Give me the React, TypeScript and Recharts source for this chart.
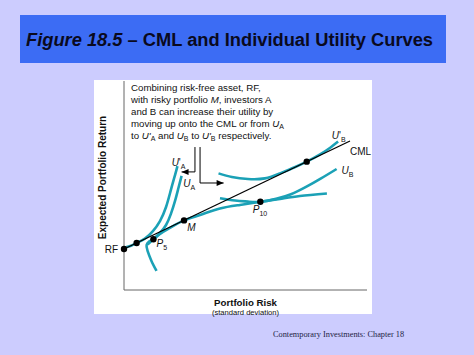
import { ComposedChart, Line, Scatter, XAxis, YAxis, Label } from "recharts";

// risk (x) / return (y) in arbitrary 0-100 units
const cml = [
  { x: 0, y: 19.6 },
  { x: 93, y: 71.3 },
];

const frontier = [
  { x: 13.4, y: 9.1 }, { x: 11.3, y: 13.9 }, { x: 9.7, y: 18.7 }, { x: 9.3, y: 21.5 },
  { x: 10.3, y: 23.2 }, { x: 12.1, y: 24.3 }, { x: 14.8, y: 26.8 }, { x: 18.9, y: 29.7 },
  { x: 24.7, y: 33.3 }, { x: 31.3, y: 35.9 }, { x: 39.5, y: 39.0 }, { x: 47.7, y: 40.7 },
  { x: 56.1, y: 42.2 }, { x: 64.2, y: 43.6 }, { x: 72.4, y: 45.0 }, { x: 83.5, y: 46.2 },
];

const uPrimeA = [
  { x: 0.4, y: 20.3 }, { x: 2.9, y: 21.2 }, { x: 5.2, y: 22.5 }, { x: 8.6, y: 24.6 },
  { x: 11.9, y: 28.2 }, { x: 14.8, y: 33.0 }, { x: 17.3, y: 39.7 }, { x: 19.3, y: 47.9 },
  { x: 21.0, y: 55.0 }, { x: 22.0, y: 59.3 },
];

const uA = [
  { x: 9.7, y: 21.8 }, { x: 12.1, y: 24.3 }, { x: 14.8, y: 27.3 }, { x: 17.3, y: 31.1 },
  { x: 19.3, y: 36.4 }, { x: 21.0, y: 42.6 }, { x: 22.4, y: 48.8 }, { x: 23.7, y: 54.6 },
];

const uB = [
  { x: 39.5, y: 43.9 }, { x: 45.7, y: 42.8 }, { x: 51.0, y: 42.3 }, { x: 56.1, y: 42.2 },
  { x: 62.6, y: 43.6 }, { x: 68.7, y: 45.8 }, { x: 74.9, y: 49.3 }, { x: 81.1, y: 53.4 },
  { x: 87.5, y: 57.9 },
];

const uPrimeB = [
  { x: 38.9, y: 55.8 }, { x: 44.4, y: 54.1 }, { x: 51.0, y: 53.1 }, { x: 58.0, y: 53.4 },
  { x: 64.2, y: 55.8 }, { x: 70.0, y: 58.6 }, { x: 75.2, y: 61.4 }, { x: 80.7, y: 64.9 },
  { x: 85.0, y: 68.2 }, { x: 88.1, y: 71.0 },
];

// RF, tangency of U'A, P5, M, P10, tangency of U'B
const dots = [
  { x: 0, y: 19.6 }, { x: 5.2, y: 22.5 }, { x: 12.1, y: 24.3 },
  { x: 24.7, y: 33.3 }, { x: 56.1, y: 42.2 }, { x: 75.2, y: 61.4 },
];

const arrowToA = [
  { x: 29.2, y: 68.4 }, { x: 29.2, y: 56.5 }, { x: 23.7, y: 56.5 },
];
const arrowToB = [
  { x: 31.3, y: 68.4 }, { x: 31.3, y: 51.2 }, { x: 41.0, y: 51.2 },
];

const labels = [
  { x: 19.6, y: 59.3, base: "U", prime: true, sub: "A", italic: true },
  { x: 24.4, y: 49.3, base: "U", prime: false, sub: "A", italic: true },
  { x: 13.4, y: 20.6, base: "P", prime: false, sub: "5", italic: true },
  { x: 26.0, y: 28.2, base: "M", prime: false, sub: "", italic: true },
  { x: 53.0, y: 36.8, base: "P", prime: false, sub: "10", italic: true },
  { x: 85.5, y: 72.2, base: "U", prime: true, sub: "B", italic: true },
  { x: 89.5, y: 55.5, base: "U", prime: false, sub: "B", italic: true },
  { x: 93.0, y: 64.6, base: "CML", prime: false, sub: "", italic: false },
  { x: 0, y: 19.6, base: "RF", prime: false, sub: "", italic: false, end: true },
];

const noteLines = [
  ["Combining risk-free asset, RF,"],
  ["with risky portfolio ", "M", ", investors A"],
  ["and B can increase their utility by"],
  ["moving up onto the CML or from ", "U", "A"],
  ["to ", "U'", "A", " and ", "U", "B", " to ", "U'", "B", " respectively."],
];

const teal = "#1ba1b6";
const font = "'Liberation Sans', Arial, sans-serif";

const Dot = (p: any) => <circle cx={p.cx} cy={p.cy} r={3.2} fill="#000" />;

const LabelMark = (p: any) => {
  const d = p.payload;
  if (d.end) {
    return (
      <text x={p.cx - 6} y={p.cy + 4} textAnchor="end" fontSize={10} fontFamily={font} fill="#111">
        {d.base}
      </text>
    );
  }
  return (
    <text x={p.cx} y={p.cy} fontSize={10} fontFamily={font} fill="#111">
      <tspan fontStyle={d.italic ? "italic" : "normal"}>{d.base}</tspan>
      {d.prime && <tspan>'</tspan>}
      {d.sub && (
        <tspan fontSize={7} dy={3}>
          {d.sub}
        </tspan>
      )}
    </text>
  );
};

const arrowHead = (dir: number) => (p: any) => {
  if (p.index !== 2) return <g key={p.index} />;
  const { cx, cy } = p;
  return (
    <path
      key={p.index}
      d={`M${cx},${cy} L${cx - dir * 7},${cy - 3} L${cx - dir * 7},${cy + 3} Z`}
      fill="#000"
    />
  );
};

const Sub = ({ t }: { t: string }) => (
  <span style={{ fontSize: 7, position: "relative", top: 2, lineHeight: 0 }}>{t}</span>
);

function Note() {
  return (
    <div
      style={{
        position: "absolute",
        left: 131,
        top: 82,
        fontFamily: font,
        fontSize: 9.7,
        lineHeight: "12px",
        color: "#111",
        whiteSpace: "nowrap",
      }}
    >
      <div>{noteLines[0][0]}</div>
      <div>
        {noteLines[1][0]}
        <i>{noteLines[1][1]}</i>
        {noteLines[1][2]}
      </div>
      <div>{noteLines[2][0]}</div>
      <div>
        {noteLines[3][0]}
        <i>{noteLines[3][1]}</i>
        <Sub t={noteLines[3][2]} />
      </div>
      <div>
        {noteLines[4][0]}
        <i>{noteLines[4][1]}</i>
        <Sub t={noteLines[4][2]} />
        {noteLines[4][3]}
        <i>{noteLines[4][4]}</i>
        <Sub t={noteLines[4][5]} />
        {noteLines[4][6]}
        <i>{noteLines[4][7]}</i>
        <Sub t={noteLines[4][8]} />
        {noteLines[4][9]}
      </div>
    </div>
  );
}

export default function App() {
  return (
    <div
      style={{
        position: "absolute",
        left: 0,
        top: 0,
        width: 474,
        height: 355,
        background: "#ccccfe",
        overflow: "hidden",
      }}
    >
      <div
        style={{
          position: "absolute",
          left: 20,
          top: 15,
          width: 426,
          height: 48,
          background: "#3c6cf4",
          boxSizing: "border-box",
          paddingLeft: 6,
          fontFamily: font,
          fontWeight: "bold",
          fontSize: 18.3,
          lineHeight: "50px",
          color: "#0a0a1e",
          whiteSpace: "nowrap",
        }}
      >
        <i>Figure 18.5</i> – CML and Individual Utility Curves
      </div>

      <div
        style={{ position: "absolute", left: 94, top: 80, width: 278, height: 234, background: "#fff" }}
      />

      <div style={{ position: "absolute", left: 94, top: 80 }}>
        <ComposedChart width={278} height={240} margin={{ top: 1, right: 5, bottom: 0, left: 0 }}>
          <XAxis
            type="number"
            dataKey="x"
            domain={[0, 100]}
            tick={false}
            tickLine={false}
            height={30}
            axisLine={{ stroke: "#666", strokeWidth: 1 }}
          >
            <Label
              content={(props: any) => {
                const vb = props.viewBox;
                const cx = vb.x + vb.width / 2;
                return (
                  <g>
                    <text x={cx} y={vb.y + 15.5} textAnchor="middle" fontSize={9.7} fontWeight="bold" fontFamily={font} fill="#111">
                      Portfolio Risk
                    </text>
                    <text x={cx} y={vb.y + 24.5} textAnchor="middle" fontSize={7.6} fontFamily={font} fill="#111">
                      (standard deviation)
                    </text>
                  </g>
                );
              }}
            />
          </XAxis>
          <YAxis
            type="number"
            dataKey="y"
            domain={[0, 100]}
            tick={false}
            tickLine={false}
            width={30}
            axisLine={{ stroke: "#666", strokeWidth: 1 }}
          >
            <Label
              content={(props: any) => {
                const vb = props.viewBox;
                const x = vb.x + 11.5;
                const y = vb.y + vb.height / 2 - 8;
                return (
                  <text
                    x={x}
                    y={y}
                    transform={`rotate(-90 ${x} ${y})`}
                    textAnchor="middle"
                    fontSize={10}
                    fontWeight="bold"
                    fontFamily={font}
                    fill="#111"
                  >
                    Expected Portfolio Return
                  </text>
                );
              }}
            />
          </YAxis>

          <Line data={frontier} dataKey="y" type="natural" stroke={teal} strokeWidth={2.6} dot={false} isAnimationActive={false} />
          <Line data={uPrimeA} dataKey="y" type="natural" stroke={teal} strokeWidth={2.6} dot={false} isAnimationActive={false} />
          <Line data={uA} dataKey="y" type="natural" stroke={teal} strokeWidth={2.6} dot={false} isAnimationActive={false} />
          <Line data={uB} dataKey="y" type="natural" stroke={teal} strokeWidth={2.6} dot={false} isAnimationActive={false} />
          <Line data={uPrimeB} dataKey="y" type="natural" stroke={teal} strokeWidth={2.6} dot={false} isAnimationActive={false} />
          <Line data={cml} dataKey="y" type="linear" stroke="#000" strokeWidth={1.3} dot={false} isAnimationActive={false} />
          <Line data={arrowToA} dataKey="y" type="linear" stroke="#000" strokeWidth={1} dot={arrowHead(-1)} isAnimationActive={false} />
          <Line data={arrowToB} dataKey="y" type="linear" stroke="#000" strokeWidth={1} dot={arrowHead(1)} isAnimationActive={false} />
          <Scatter data={dots} dataKey="y" shape={Dot} isAnimationActive={false} />
          <Scatter data={labels} dataKey="y" shape={LabelMark} isAnimationActive={false} />
        </ComposedChart>
      </div>

      <Note />

      <div
        style={{
          position: "absolute",
          left: 273,
          top: 330,
          fontFamily: "'Liberation Serif', 'Times New Roman', serif",
          fontSize: 8.3,
          color: "#1c1c44",
          whiteSpace: "nowrap",
        }}
      >
        Contemporary Investments: Chapter 18
      </div>
    </div>
  );
}
